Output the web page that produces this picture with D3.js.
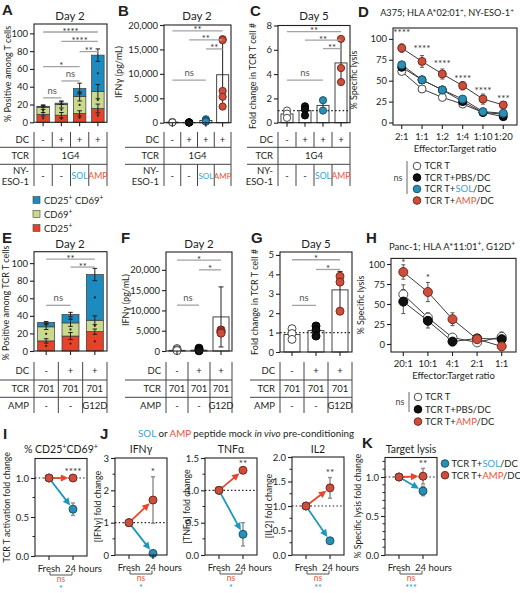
<!DOCTYPE html>
<html><head><meta charset="utf-8">
<script src="https://cdn.jsdelivr.net/npm/d3@7/dist/d3.min.js"></script>
<style>
html,body{margin:0;padding:0;background:#fff;}
svg{display:block;}
text{font-family:Lato,"Open Sans","DejaVu Sans",sans-serif;}
</style></head><body>
<svg id="chart" width="520" height="593" viewBox="0 0 520 593"></svg>
<script>
// ================= DATA =================
// Panel A: 1G4 TCR T cells, day 2, % positive (stacked)
const aCD25 = [9, 8, 10, 15.5];
const aCD69 = [8, 12, 19, 19];
const aDouble = [1, 1.5, 9, 41];
const aCD25Sd = [2, 3, 3, 5];
const aCD69Sd = [2.5, 4, 5, 8];
const aDoubleSd = [1, 1.5, 6, 7];
const aTicks = [0, 20, 40, 60, 80, 100];
const aSig = [[0,3,"****",101.5],[1,3,"****",91],[2,3,"**",79.5],[0,2,"*",62.5],[1,2,"ns",46.5],[0,1,"ns",27.5]];

// Tables A-C
const dc4 = ["-","+","+","+"];
const nyEso = ["-","-","SOL","AMP"];
const tcr1G4 = "1G4";

// Panel B: IFNγ (pg/mL), day 2
const bMeans = [90, 60, 450, 9820];
const bSd = [40, 30, 200, 6600];
const bPoints = [[130,90,50],[80,60,40,30],[700,500,400,200],[17100,16900,6500,5300,3300]];
const bTicks = [0, 5000, 10000, 15000, 20000];
const bSig = [[0,3,"**",18800],[1,3,"**",16950],[2,3,"**",15100],[0,2,"ns",8700]];

// Panel C: fold change in TCR T cell #, day 5
const cMeans = [0.72, 1.0, 1.42, 4.92];
const cSd = [0.3, 0.38, 0.45, 1.8];
const cPoints = [[1.0,0.75,0.4],[1.35,1.1,0.6],[1.85,1.0],[6.9,4.5,3.35]];
const cTicks = [0, 2, 4, 6, 8];
const cSig = [[0,3,"**",7.5],[1,3,"**",6.8],[2,3,"**",6.1],[0,2,"ns",3.5]];

// Panel D: A375 lysis
const dRatios = ["2:1","1:1","1:2","1:4","1:10","1:20"];
const dTcr = [61, 40, 30, 22, 12, 10];
const dPbs = [66, 51, 39, 25, 12, 7];
const dSol = [69, 51, 39, 28, 13, 11];
const dAmp = [89, 73, 58, 44, 28, 21];
const dSmallSd = [2, 2, 2, 2, 2, 2];
const dAmpSd = [5, 7, 6, 5, 6, 4];
const dStars = ["****","****","****","****","****","***"];
const dStarAt = [110, 90.5, 73.5, 55, 41, 31];
const dTicks = [0, 25, 50, 75, 100];

// Panel E: 701 TCR, day 2 (stacked)
const eCD25 = [11.5, 17, 22];
const eCD69 = [16, 15, 13];
const eDouble = [5, 9.5, 52];
const eCD25Sd = [2.5, 4, 3];
const eCD69Sd = [3, 4, 5];
const eDoubleSd = [1, 2.5, 7];
const eTicks = [0, 20, 40, 60, 80, 100];
const eSig = [[0,2,"**",104.5],[1,2,"**",95.5],[0,1,"ns",52]];

// Tables E-G
const dc3 = ["-","+","+"];
const tcr701 = ["701","701","701"];
const amp3 = ["-","-","G12D"];

// Panel F: IFNγ (pg/mL), day 2
const fMeans = [150, 200, 8400];
const fSd = [250, 300, 7400];
const fPoints = [[600,300,100],[700,400,150,50],[5200,5000,4700,4600,4400]];
const fTicks = [0, 5000, 10000, 15000, 20000];
const fSig = [[0,2,"*",22400],[1,2,"*",20000],[0,1,"ns",11300]];

// Panel G: fold change, day 5
const gMeans = [0.9, 1.1, 3.2];
const gSd = [0.25, 0.22, 0.95];
const gPoints = [[1.2,0.95,0.65],[1.34,1.13,0.82],[3.9,3.6,2.1]];
const gTicks = [0, 1, 2, 3, 4, 5];
const gSig = [[0,2,"*",4.75],[1,2,"*",4.25],[0,1,"ns",2.4]];

// Panel H: Panc-1 lysis
const hRatios = ["20:1","10:1","4:1","2:1","1:1"];
const hTcr = [62, 33, 8, 2, 9];
const hPbs = [53, 29, 3, 7, 6];
const hAmp = [90, 65, 31, 6, -3];
const hTcrSd = [12, 6, 4, 3, 6];
const hPbsSd = [15, 9, 5, 4, 4];
const hAmpSd = [9, 12, 8, 4, 3];
const hStars = ["*","*","","",""];
const hStarAt = [104, 86, 0, 0, 0];
const hTicks = [0, 25, 50, 75, 100];

// Panels I-K: fold change, Fresh vs 24 hours
const foldTimes = ["Fresh","24 hours"];
const iSol = [1, 0.6],  iSolSd = [0, 0.08],  iAmp = [1, 1.0],  iAmpSd = [0, 0.02];
const ifnSol = [1, 0.05], ifnSolSd = [0, 0.04], ifnAmp = [1, 1.7], ifnAmpSd = [0, 0.72];
const tnfSol = [1, 0.32], tnfSolSd = [0, 0.18], tnfAmp = [1, 1.31], tnfAmpSd = [0, 0.03];
const il2Sol = [1, 0.29], il2SolSd = [0, 0.03], il2Amp = [1, 1.37], il2AmpSd = [0, 0.21];
const kSol = [1, 0.82],  kSolSd = [0, 0.06],  kAmp = [1, 1.01],  kAmpSd = [0, 0.1];
const foldTopStars = ["****","*","**","**","**"];
const foldBottomSol = ["*","*","*","**","***"];

// ================= STYLE =================
const INK = "#231f20";
const BRK = "#a3a3a3";
const C_BLUE = "#1c8bc0", C_GREEN = "#c9da8c", C_RED = "#e4432a";
const T_SOL = "#37a3d6", T_AMP = "#e8543b";
const ARROW_RED = "#e6472d", ARROW_BLUE = "#1d98bd";
const PT = {
  open:{fill:"#ffffff", stroke:"#4a4a4a"},
  black:{fill:"#111111", stroke:"#000000"},
  sol:{fill:"#2a8fb5", stroke:"#1a5670"},
  amp:{fill:"#cc4e3c", stroke:"#7c271b"}
};
const svg = d3.select("#chart");

// ================= HELPERS =================
function rich(g, x, y, parts, o = {}) {
  const size = o.size || 9.5;
  const t = g.append("text").attr("x", x).attr("y", y)
    .attr("font-size", size).attr("fill", o.fill || INK)
    .attr("text-anchor", o.anchor || "start");
  if (o.rotate) t.attr("transform", `rotate(-90 ${x} ${y})`);
  if (o.weight) t.attr("font-weight", o.weight);
  let shifted = 0;
  parts.forEach(pt => {
    const p = typeof pt === "string" ? {t: pt} : pt;
    const s = t.append("tspan").text(p.t);
    const want = p.sup ? -size * 0.38 : 0;
    if (want !== shifted) { s.attr("dy", want - shifted); shifted = want; }
    if (p.sup) s.attr("font-size", size * 0.7);
    if (p.fill) s.attr("fill", p.fill);
    if (p.italic) s.attr("font-style", "italic");
  });
  return t;
}
function letter(x, y, s) {
  svg.append("text").attr("x", x).attr("y", y).text(s)
    .style("font-family", "'Liberation Sans', Arial, sans-serif")
    .attr("font-weight", "bold").attr("font-size", 15).attr("fill", INK);
}
function frameAxis(g, x0, x1, y, ticks, fmt, minor) {
  const [yb, yt] = y.range();
  g.append("rect").attr("x", x0).attr("y", yt).attr("width", x1 - x0).attr("height", yb - yt)
    .attr("fill", "none").attr("stroke", INK).attr("stroke-width", 1.1);
  const a = g.append("g").attr("transform", `translate(${x0},0)`)
    .call(d3.axisLeft(y).tickValues(ticks).tickSize(4).tickPadding(2).tickFormat(fmt));
  a.select(".domain").remove();
  a.selectAll(".tick line").attr("stroke", INK).attr("stroke-width", 1.1);
  a.selectAll(".tick text").attr("font-size", 9.5).attr("fill", INK);
  if (minor) {
    g.selectAll(null).data(minor).join("line")
      .attr("x1", x0 - 2.5).attr("x2", x0).attr("y1", d => y(d)).attr("y2", d => y(d))
      .attr("stroke", INK).attr("stroke-width", 1);
  }
}
function xTicks(g, xs, yb) {
  g.selectAll(null).data(xs).join("line")
    .attr("x1", d => d).attr("x2", d => d).attr("y1", yb).attr("y2", yb + 4)
    .attr("stroke", INK).attr("stroke-width", 1.1);
}
function errBar(g, x, y, lo, hi, cap, color, w) {
  const c = color || INK, sw = w || 1;
  g.append("line").attr("x1", x).attr("x2", x).attr("y1", y(lo)).attr("y2", y(hi)).attr("stroke", c).attr("stroke-width", sw);
  [lo, hi].forEach(v => g.append("line").attr("x1", x - cap / 2).attr("x2", x + cap / 2)
    .attr("y1", y(v)).attr("y2", y(v)).attr("stroke", c).attr("stroke-width", sw));
}
function sigBrackets(g, cx, y, list) {
  list.forEach(([i, j, lab, v]) => {
    const yy = y(v);
    g.append("line").attr("x1", cx(i)).attr("x2", cx(j)).attr("y1", yy).attr("y2", yy)
      .attr("stroke", BRK).attr("stroke-width", 1.3);
    const isNs = lab === "ns";
    g.append("text").attr("x", (cx(i) + cx(j)) / 2).attr("y", isNs ? yy - 4 : yy + 2.5)
      .attr("text-anchor", "middle").attr("font-size", 9.5)
      .attr("fill", isNs ? "#555" : "#333").text(lab);
  });
}
function title(g, x, y, s, size) {
  g.append("text").attr("x", x).attr("y", y).attr("text-anchor", "middle")
    .attr("font-size", size || 11.5).attr("fill", INK).text(s);
}
function ylab(g, x, y, parts, size) {
  rich(g, x, y, parts, {rotate: true, anchor: "middle", size: size || 9});
}
function dot(g, x, y, r, st) {
  g.append("circle").attr("cx", x).attr("cy", y).attr("r", r)
    .attr("fill", PT[st].fill).attr("stroke", PT[st].stroke).attr("stroke-width", 1);
}

// stacked bar panel
function stacked(p) {
  const g = svg.append("g");
  const n = p.red.length;
  const x = d3.scaleBand().domain(d3.range(n)).range([p.x0, p.x1]);
  const cx = i => x(i) + x.bandwidth() / 2;
  const y = d3.scaleLinear().domain(p.domain).range(p.range);
  const rows = d3.range(n).map(i => ({r: p.red[i], g: p.green[i], b: p.blue[i]}));
  const layers = d3.stack().keys(["r", "g", "b"])(rows);
  const cols = [C_RED, C_GREEN, C_BLUE];
  const sds = [p.redSd, p.greenSd, p.blueSd];
  layers.forEach((layer, k) => {
    g.selectAll(null).data(layer).join("rect")
      .attr("x", (d, i) => cx(i) - p.bw / 2).attr("width", p.bw)
      .attr("y", d => y(d[1])).attr("height", d => y(d[0]) - y(d[1]))
      .attr("fill", cols[k]).attr("stroke", "#3a3a3a").attr("stroke-width", 0.7);
  });
  layers.forEach((layer, k) => layer.forEach((d, i) => {
    errBar(g, cx(i), y, d[1] - sds[k][i], d[1] + sds[k][i], 4.5);
    g.append("circle").attr("cx", cx(i)).attr("cy", y(d[1] - (d[1] - d[0]) / 2)).attr("r", 1.1).attr("fill", INK);
  }));
  frameAxis(g, p.x0, p.x1, y, p.ticks, d3.format("d"));
  xTicks(g, d3.range(n).map(cx), y.range()[0]);
  sigBrackets(g, cx, y, p.sig);
  return {g, cx};
}

// bar + dot panel
function barDot(p) {
  const g = svg.append("g");
  const n = p.means.length;
  const x = d3.scaleBand().domain(d3.range(n)).range([p.x0, p.x1]);
  const cx = i => x(i) + x.bandwidth() / 2;
  const y = d3.scaleLinear().domain(p.domain).range(p.range);
  g.selectAll(null).data(p.means).join("rect")
    .attr("x", (d, i) => cx(i) - p.bw / 2).attr("width", p.bw)
    .attr("y", d => y(d)).attr("height", d => y(0) - y(d))
    .attr("fill", "#fff").attr("stroke", "#444").attr("stroke-width", 1);
  if (p.ref != null) {
    g.append("line").attr("x1", p.x0).attr("x2", p.x1).attr("y1", y(p.ref)).attr("y2", y(p.ref))
      .attr("stroke", INK).attr("stroke-width", 1.3).attr("stroke-dasharray", "1.6,2.2");
  }
  p.means.forEach((m, i) => errBar(g, cx(i), y, Math.max(p.domain[0], m - p.sd[i]), m + p.sd[i], 5, "#222", 1));
  p.points.forEach((arr, i) => arr.forEach(v => dot(g, cx(i), y(v), p.r, p.styles[i])));
  frameAxis(g, p.x0, p.x1, y, p.ticks, p.fmt);
  xTicks(g, d3.range(n).map(cx), y.range()[0]);
  sigBrackets(g, cx, y, p.sig);
  return {g, cx};
}

// line panel (lysis curves)
function linePanel(p) {
  const g = svg.append("g");
  const x = d3.scalePoint().domain(p.cats).range([p.xr0, p.xr1]).padding(p.pad);
  const y = d3.scaleLinear().domain(p.domain).range(p.range);
  const line = d3.line().x((d, i) => x(p.cats[i])).y(d => y(d));
  p.series.forEach(s => {
    g.append("path").attr("d", line(s.vals)).attr("fill", "none").attr("stroke", "#3a3a3a").attr("stroke-width", 1);
  });
  p.series.forEach(s => {
    s.vals.forEach((v, i) => { if (s.sd[i] > 0) errBar(g, x(p.cats[i]), y, v - s.sd[i], v + s.sd[i], 4, "#555", 1); });
  });
  p.series.forEach(s => s.vals.forEach((v, i) => dot(g, x(p.cats[i]), y(v), p.r, s.style)));
  p.stars.forEach((s, i) => {
    if (!s) return;
    g.append("text").attr("x", x(p.cats[i])).attr("y", y(p.starAt[i]) + 5.5).attr("text-anchor", "middle")
      .attr("font-size", 10).attr("fill", "#333").text(s);
  });
  frameAxis(g, p.x0, p.x1, y, p.ticks, d3.format("d"));
  const yb = y.range()[0];
  xTicks(g, p.cats.map(c => x(c)), yb);
  g.selectAll(null).data(p.cats).join("text").attr("x", c => x(c)).attr("y", yb + 15)
    .attr("text-anchor", "middle").attr("font-size", 9.5).attr("fill", INK).text(c => c);
  g.append("text").attr("x", (p.x0 + p.x1) / 2).attr("y", yb + 27).attr("text-anchor", "middle")
    .attr("font-size", 9.5).attr("fill", INK).text("Effector:Target ratio");
  return {g, x, y};
}

// table under bar panels
function table(p) {
  const g = svg.append("g");
  const n = p.rows[0].cells ? p.rows[0].cells.length : 3;
  const x = d3.scaleBand().domain(d3.range(n)).range([p.x0, p.x1]);
  const cx = i => x(i) + x.bandwidth() / 2;
  const bounds = [p.yTop, ...p.lines, p.yBot];
  p.lines.forEach(ly => g.append("line").attr("x1", p.left).attr("x2", p.x1).attr("y1", ly).attr("y2", ly)
    .attr("stroke", "#444").attr("stroke-width", 1));
  [p.x0, p.x1].forEach(vx => g.append("line").attr("x1", vx).attr("x2", vx).attr("y1", p.yTop).attr("y2", p.yBot)
    .attr("stroke", "#444").attr("stroke-width", 1));
  p.rows.forEach((r, ri) => {
    const yc = r.y;
    r.label.forEach((l, li) => {
      const off = (li - (r.label.length - 1) / 2) * 10.5;
      g.append("text").attr("x", p.x0 - 5).attr("y", yc + off + 3.4).attr("text-anchor", "end")
        .attr("font-size", 9.5).attr("fill", INK).text(l);
    });
    if (r.span) {
      g.append("text").attr("x", (p.x0 + p.x1) / 2).attr("y", yc + 3.4).attr("text-anchor", "middle")
        .attr("font-size", 9.5).attr("fill", INK).text(r.span);
    } else {
      for (let i = 1; i < n; i++) {
        g.append("line").attr("x1", x(i)).attr("x2", x(i)).attr("y1", bounds[ri]).attr("y2", bounds[ri + 1])
          .attr("stroke", "#444").attr("stroke-width", 1);
      }
      r.cells.forEach((c, i) => {
        const col = c === "SOL" ? T_SOL : c === "AMP" ? T_AMP : INK;
        const fs = (c === "SOL" || c === "AMP") ? Math.min(9.5, x.bandwidth() * 0.48) : 9.5;
        g.append("text").attr("x", cx(i)).attr("y", yc + 3.2).attr("text-anchor", "middle")
          .attr("font-size", fs).attr("fill", col).text(c);
      });
    }
  });
}

// fold-change panel (I, J, K)
function foldPanel(p) {
  const g = svg.append("g");
  const x = d3.scalePoint().domain(foldTimes).range([p.x0, p.x0 + p.w]).padding(0.583);
  const y = d3.scaleLinear().domain(p.domain).range(p.range);
  const x1 = p.x0 + p.w;
  g.append("line").attr("x1", p.x0).attr("x2", x1).attr("y1", y(1)).attr("y2", y(1))
    .attr("stroke", INK).attr("stroke-width", 1.2).attr("stroke-dasharray", "1.5,2.2");
  const r = 4;
  function arrow(vals, col) {
    const xa = x(foldTimes[0]), ya = y(vals[0]), xb = x(foldTimes[1]), yb = y(vals[1]);
    const dx = xb - xa, dy = yb - ya, L = Math.hypot(dx, dy);
    const ux = dx / L, uy = dy / L;
    const tipx = xb - ux * (r + 0.6), tipy = yb - uy * (r + 0.6);
    const hl = 7.5, hw = 3.6;
    const bx = tipx - ux * hl, by = tipy - uy * hl;
    g.append("line").attr("x1", xa).attr("y1", ya).attr("x2", bx + ux * 1).attr("y2", by + uy * 1)
      .attr("stroke", col).attr("stroke-width", 1.8);
    g.append("path").attr("d", `M${tipx},${tipy}L${bx - uy * hw},${by + ux * hw}L${bx + uy * hw},${by - ux * hw}Z`)
      .attr("fill", col);
  }
  function errs(vals, sd) {
    vals.forEach((v, i) => { if (sd[i] > 0) errBar(g, x(foldTimes[i]), y, Math.max(0, v - sd[i]), v + sd[i], 4, "#8d8d8d", 1.4); });
  }
  errs(p.sol, p.solSd); errs(p.amp, p.ampSd);
  arrow(p.sol, ARROW_BLUE);
  p.sol.forEach((v, i) => dot(g, x(foldTimes[i]), y(v), r, "sol"));
  arrow(p.amp, ARROW_RED);
  p.amp.forEach((v, i) => dot(g, x(foldTimes[i]), y(v), r, "amp"));
  const top = p.amp[1] + p.ampSd[1];
  g.append("text").attr("x", x(foldTimes[1])).attr("y", y(top) - 1.5).attr("text-anchor", "middle")
    .attr("font-size", 10).attr("fill", "#333").text(p.topStar);
  frameAxis(g, p.x0, x1, y, p.ticks, d3.format(p.fmt), p.minor);
  const yb = y.range()[0];
  xTicks(g, foldTimes.map(t => x(t)), yb);
  g.append("text").attr("x", x("Fresh")).attr("y", yb + 15.5).attr("text-anchor", "middle").attr("font-size", 9.5).attr("fill", INK).text("Fresh");
  g.append("text").attr("x", x("24 hours") - 8).attr("y", yb + 15.5).attr("text-anchor", "start").attr("font-size", 9.5).attr("fill", INK).text("24 hours");
  const xa = x("Fresh") + 1, xb2 = x("24 hours") - 1, by = yb + 19;
  g.append("path").attr("d", `M${xa},${by - 3.5}V${by}H${xb2}V${by - 3.5}`).attr("fill", "none").attr("stroke", "#555").attr("stroke-width", 1);
  const mid = (x("Fresh") + x("24 hours")) / 2;
  g.append("text").attr("x", mid).attr("y", by + 7).attr("text-anchor", "middle").attr("font-size", 8.5).attr("fill", T_AMP).text("ns");
  g.append("text").attr("x", mid).attr("y", by + 16.5).attr("text-anchor", "middle").attr("font-size", 9).attr("fill", ARROW_BLUE).text(p.botStar);
  return {g, x, y, x1};
}

// ================= PANEL A =================
letter(2, 15, "A");
{
  const {g} = stacked({x0: 34, x1: 107, domain: [0, 110.5], range: [122.3, 24], bw: 12.5,
    red: aCD25, green: aCD69, blue: aDouble, redSd: aCD25Sd, greenSd: aCD69Sd, blueSd: aDoubleSd,
    ticks: aTicks, sig: aSig});
  title(g, 70, 20, "Day 2");
  ylab(g, 11, 74, ["% Positive among T cells"]);
}
table({left: 0, x0: 34, x1: 107, yTop: 132, lines: [147.3, 164.3], yBot: 186,
  rows: [{label: ["DC"], y: 139.5, cells: dc4}, {label: ["TCR"], y: 156, span: tcr1G4}, {label: ["NY-", "ESO-1"], y: 176, cells: nyEso}]});
// legend
{
  const g = svg.append("g");
  const items = [[C_BLUE, [{t: "CD25"}, {t: "+", sup: true}, {t: " CD69"}, {t: "+", sup: true}]],
                 [C_GREEN, [{t: "CD69"}, {t: "+", sup: true}]],
                 [C_RED, [{t: "CD25"}, {t: "+", sup: true}]]];
  items.forEach(([c, parts], i) => {
    const yy = 200 + i * 14;
    g.append("rect").attr("x", 33).attr("y", yy - 3.5).attr("width", 7).attr("height", 7).attr("fill", c).attr("stroke", "#444").attr("stroke-width", 0.6);
    rich(g, 44, yy + 3.5, parts, {size: 9.5});
  });
}

// ================= PANEL B =================
letter(118, 16, "B");
{
  const {g} = barDot({x0: 164, x1: 231, domain: [0, 20000], range: [122.7, 25], bw: 12, r: 3.6,
    means: bMeans, sd: bSd, points: bPoints, styles: ["open", "black", "sol", "amp"], ticks: bTicks,
    fmt: d3.format(","), sig: bSig});
  title(g, 197, 20, "Day 2");
  ylab(g, 122, 72, ["IFNγ (pg/mL)"]);
}
table({left: 125, x0: 164, x1: 231, yTop: 132, lines: [147.3, 164.3], yBot: 186,
  rows: [{label: ["DC"], y: 139.5, cells: dc4}, {label: ["TCR"], y: 156, span: tcr1G4}, {label: ["NY-", "ESO-1"], y: 176, cells: nyEso}]});

// ================= PANEL C =================
letter(250, 16, "C");
{
  const {g} = barDot({x0: 278, x1: 350, domain: [0, 8], range: [122.7, 25.5], bw: 12, r: 3.6, ref: 1,
    means: cMeans, sd: cSd, points: cPoints, styles: ["open", "black", "sol", "amp"], ticks: cTicks,
    fmt: d3.format("d"), sig: cSig});
  title(g, 314, 20, "Day 5");
  ylab(g, 256, 76, ["Fold change in TCR T cell #"]);
}
table({left: 247, x0: 278, x1: 350, yTop: 132, lines: [147.3, 164.3], yBot: 186,
  rows: [{label: ["DC"], y: 139.5, cells: dc4}, {label: ["TCR"], y: 156, span: tcr1G4}, {label: ["NY-", "ESO-1"], y: 176, cells: nyEso}]});

// ================= PANEL D =================
letter(358, 17, "D");
{
  const {g} = linePanel({x0: 393, x1: 517, xr0: 393, xr1: 512, pad: 0.43, cats: dRatios,
    domain: [-3, 113], range: [125, 28], ticks: dTicks, r: 4,
    series: [{vals: dTcr, sd: dSmallSd, style: "open"}, {vals: dPbs, sd: dSmallSd, style: "black"},
             {vals: dSol, sd: dSmallSd, style: "sol"}, {vals: dAmp, sd: dAmpSd, style: "amp"}],
    stars: dStars, starAt: dStarAt});
  rich(g, 447, 16, [{t: "A375; HLA A*02:01"}, {t: "+", sup: true}, {t: ", NY-ESO-1"}, {t: "+", sup: true}], {anchor: "middle", size: 9.2});
  ylab(g, 357, 80, ["% Specific lysis"]);
  const items = [["open", [{t: "TCR T"}]], ["black", [{t: "TCR T+PBS/DC"}]],
                 ["sol", [{t: "TCR T+"}, {t: "SOL", fill: T_SOL}, {t: "/DC"}]], ["amp", [{t: "TCR T+"}, {t: "AMP", fill: T_AMP}, {t: "/DC"}]]];
  items.forEach(([st, parts], i) => {
    const yy = 166 + i * 11.5;
    dot(g, 417, yy, 3.8, st);
    rich(g, 424.5, yy + 3.4, parts, {size: 9.5});
  });
  g.append("line").attr("x1", 407).attr("x2", 407).attr("y1", 161).attr("y2", 194).attr("stroke", "#666").attr("stroke-width", 1);
  g.append("text").attr("x", 398).attr("y", 181).attr("text-anchor", "middle").attr("font-size", 9).attr("fill", "#444").text("ns");
}

// ================= PANEL E =================
letter(2, 243, "E");
{
  const {g} = stacked({x0: 34, x1: 107, domain: [0, 113], range: [351, 251.7], bw: 17,
    red: eCD25, green: eCD69, blue: eDouble, redSd: eCD25Sd, greenSd: eCD69Sd, blueSd: eDoubleSd,
    ticks: eTicks, sig: eSig});
  title(g, 70, 248, "Day 2");
  ylab(g, 9, 303, ["% Positive among TCR T cells"]);
}
table({left: 0, x0: 34, x1: 107, yTop: 362, lines: [380, 397.3], yBot: 413,
  rows: [{label: ["DC"], y: 371, cells: dc3}, {label: ["TCR"], y: 388.5, cells: tcr701}, {label: ["AMP"], y: 406, cells: amp3}]});

// ================= PANEL F =================
letter(121, 243, "F");
{
  const {g} = barDot({x0: 166, x1: 232, domain: [0, 24400], range: [351, 252], bw: 16, r: 4,
    means: fMeans, sd: fSd, points: fPoints, styles: ["open", "black", "amp"], ticks: fTicks,
    fmt: d3.format(","), sig: fSig});
  title(g, 199, 248, "Day 2");
  ylab(g, 129, 300, ["IFNγ (pg/mL)"]);
}
table({left: 125, x0: 166, x1: 232, yTop: 362, lines: [380, 397.3], yBot: 413,
  rows: [{label: ["DC"], y: 371, cells: dc3}, {label: ["TCR"], y: 388.5, cells: tcr701}, {label: ["AMP"], y: 406, cells: amp3}]});

// ================= PANEL G =================
letter(251, 243, "G");
{
  const {g} = barDot({x0: 280, x1: 352, domain: [0, 5.15], range: [352, 252], bw: 16, r: 4, ref: 1,
    means: gMeans, sd: gSd, points: gPoints, styles: ["open", "black", "amp"], ticks: gTicks,
    fmt: d3.format("d"), sig: gSig});
  title(g, 316, 248, "Day 5");
  ylab(g, 258, 302, ["Fold change in TCR T cell #"]);
}
table({left: 250, x0: 280, x1: 352, yTop: 362, lines: [380, 397.3], yBot: 413,
  rows: [{label: ["DC"], y: 371, cells: dc3}, {label: ["TCR"], y: 388.5, cells: tcr701}, {label: ["AMP"], y: 406, cells: amp3}]});

// ================= PANEL H =================
letter(366, 243, "H");
{
  const {g} = linePanel({x0: 391, x1: 516, xr0: 391, xr1: 514, pad: 0.5, cats: hRatios,
    domain: [-10, 107], range: [352, 258.4], ticks: hTicks, r: 4.5,
    series: [{vals: hTcr, sd: hTcrSd, style: "open"}, {vals: hPbs, sd: hPbsSd, style: "black"},
             {vals: hAmp, sd: hAmpSd, style: "amp"}],
    stars: hStars, starAt: hStarAt});
  rich(g, 452, 250, [{t: "Panc-1; HLA A*11:01"}, {t: "+", sup: true}, {t: ", G12D"}, {t: "+", sup: true}], {anchor: "middle", size: 9.5});
  ylab(g, 364, 305, ["% Specific lysis"]);
  const items = [["open", [{t: "TCR T"}]], ["black", [{t: "TCR T+PBS/DC"}]],
                 ["amp", [{t: "TCR T+"}, {t: "AMP", fill: T_AMP}, {t: "/DC"}]]];
  items.forEach(([st, parts], i) => {
    const yy = 397 + i * 12.3;
    dot(g, 418, yy, 3.8, st);
    rich(g, 425, yy + 3.4, parts, {size: 9.5});
  });
  g.append("line").attr("x1", 409).attr("x2", 409).attr("y1", 392).attr("y2", 412).attr("stroke", "#666").attr("stroke-width", 1);
  g.append("text").attr("x", 400).attr("y", 405).attr("text-anchor", "middle").attr("font-size", 9).attr("fill", "#444").text("ns");
}

// ================= PANELS I, J, K =================
letter(3, 439, "I");
letter(100, 439, "J");
letter(362, 448, "K");
rich(svg, 138, 437, [{t: "SOL", fill: T_SOL}, {t: " or "}, {t: "AMP", fill: T_AMP}, {t: " peptide mock "}, {t: "in vivo", italic: true}, {t: " pre-conditioning"}], {size: 9.8});

const foldDefs = [
  {x0: 35, domain: [0, 1.25], range: [556, 458.5], sol: iSol, solSd: iSolSd, amp: iAmp, ampSd: iAmpSd,
   ticks: [0, 0.5, 1.0], fmt: ".1f", minor: [0.25, 0.75], ttl: [{t: "% CD25"}, {t: "+", sup: true}, {t: "CD69"}, {t: "+", sup: true}],
   yl: ["TCR T activation fold change"], ylx: 10},
  {x0: 115, domain: [0, 3], range: [555, 458], sol: ifnSol, solSd: ifnSolSd, amp: ifnAmp, ampSd: ifnAmpSd,
   ticks: [0, 1, 2, 3], fmt: "d", minor: [0.5, 1.5, 2.5], ttl: [{t: "IFNγ"}], yl: ["[IFNγ] fold change"], ylx: 101},
  {x0: 205, domain: [0, 1.5], range: [555, 458], sol: tnfSol, solSd: tnfSolSd, amp: tnfAmp, ampSd: tnfAmpSd,
   ticks: [0, 0.5, 1.0, 1.5], fmt: ".1f", minor: [0.25, 0.75, 1.25], ttl: [{t: "TNFα"}], yl: ["[TNFα] fold change"], ylx: 190},
  {x0: 292, domain: [0, 2], range: [555, 457], sol: il2Sol, solSd: il2SolSd, amp: il2Amp, ampSd: il2AmpSd,
   ticks: [0, 0.5, 1.0, 1.5, 2.0], fmt: ".1f", minor: [0.25, 0.75, 1.25, 1.75], ttl: [{t: "IL2"}], yl: ["[IL2] fold change"], ylx: 272},
  {x0: 385, domain: [0, 1.25], range: [555, 457.5], sol: kSol, solSd: kSolSd, amp: kAmp, ampSd: kAmpSd,
   ticks: [0, 0.5, 1.0], fmt: ".1f", minor: [0.1, 0.2, 0.3, 0.4, 0.6, 0.7, 0.8, 0.9, 1.1, 1.2], ttl: [{t: "Target lysis"}],
   yl: ["% Specific lysis fold change"], ylx: 361}
];
foldDefs.forEach((d, k) => {
  const {g, y} = foldPanel({x0: d.x0, w: 52, domain: d.domain, range: d.range, sol: d.sol, solSd: d.solSd,
    amp: d.amp, ampSd: d.ampSd, ticks: d.ticks, fmt: d.fmt, minor: d.minor,
    topStar: foldTopStars[k], botStar: foldBottomSol[k]});
  rich(g, d.x0 + 26, 453, d.ttl, {anchor: "middle", size: 10.5});
  ylab(g, d.ylx, (y.range()[0] + y.range()[1]) / 2, d.yl, 8.8);
});
// K legend
{
  const g = svg.append("g");
  const items = [["sol", [{t: "TCR T+"}, {t: "SOL", fill: T_SOL}, {t: "/DC"}]], ["amp", [{t: "TCR T+"}, {t: "AMP", fill: T_AMP}, {t: "/DC"}]]];
  items.forEach(([st, parts], i) => {
    const yy = 463.5 + i * 11.7;
    dot(g, 445, yy, 3.8, st);
    rich(g, 451.5, yy + 3.4, parts, {size: 9.5});
  });
}
</script></body></html>
